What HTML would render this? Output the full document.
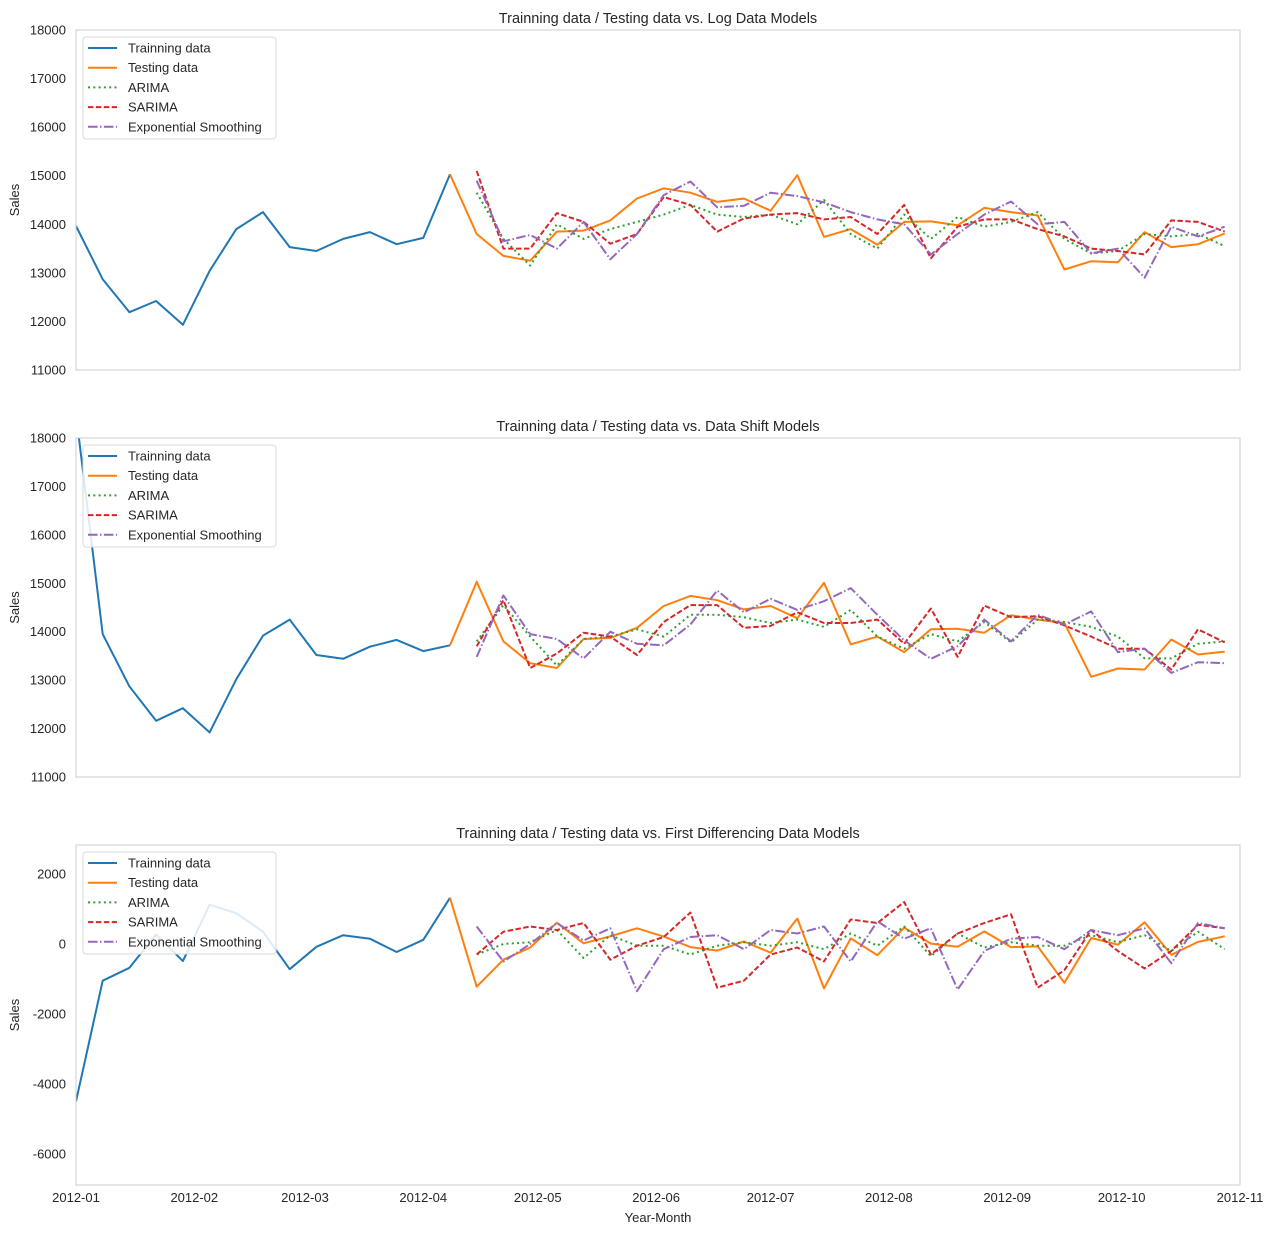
<!DOCTYPE html>
<html><head><meta charset="utf-8"><style>
body{margin:0;background:#fff;}
svg{display:block;font-family:"Liberation Sans",sans-serif;}
</style></head><body>
<svg id="chart" width="1273" height="1234" xmlns="http://www.w3.org/2000/svg"></svg>
<script>
// ---- data ----
const xTickLabels = ["2012-01","2012-02","2012-03","2012-04","2012-05","2012-06","2012-07","2012-08","2012-09","2012-10","2012-11"];
const xTickDays = [0,31,60,91,121,152,182,213,244,274,305];
const titles = ["Trainning data / Testing data vs. Log Data Models","Trainning data / Testing data vs. Data Shift Models","Trainning data / Testing data vs. First Differencing Data Models"];
// panel 1 (log)
const train1 = [13965,12870,12190,12420,11930,13040,13900,14250,13530,13450,13700,13840,13590,13720,15030];
const test1 = [15030,13800,13350,13250,13850,13870,14080,14530,14740,14650,14460,14530,14280,15010,13740,13900,13580,14050,14060,13980,14340,14250,14180,13070,13240,13220,13840,13530,13590,13810];
const arima1 = [14650,13700,13150,14000,13700,13900,14050,14200,14400,14200,14150,14200,14000,14500,13800,13500,14200,13700,14150,13950,14050,14250,13700,13400,13450,13800,13750,13800,13550];
const sarima1 = [15100,13500,13500,14230,14050,13600,13800,14560,14400,13850,14120,14200,14230,14100,14150,13800,14400,13300,13950,14100,14100,13900,13750,13500,13450,13380,14080,14050,13850];
const es1 = [14900,13650,13780,13500,14050,13280,13800,14600,14880,14350,14380,14650,14580,14450,14250,14100,14000,13380,13800,14200,14470,14000,14050,13400,13500,12900,13950,13750,13950];
// panel 2 (shift)
const train2 = [18500,13950,12870,12160,12420,11920,13020,13920,14250,13520,13440,13690,13830,13600,13720];
const test2 = [13720,15030,13800,13350,13250,13850,13870,14080,14530,14740,14650,14460,14530,14280,15010,13740,13900,13580,14050,14060,13980,14340,14250,14180,13070,13240,13220,13840,13530,13590];
const arima2 = [13800,14550,13900,13300,13850,13900,14050,13900,14350,14350,14300,14180,14250,14100,14450,13900,13650,13950,13800,14200,13780,14250,14200,14100,13900,13450,13450,13750,13800];
const sarima2 = [13700,14650,13250,13550,13980,13900,13520,14200,14550,14550,14080,14120,14400,14180,14180,14250,13750,14480,13480,14540,14300,14320,14130,13900,13650,13650,13220,14050,13780];
const es2 = [13480,14750,13950,13850,13450,14000,13750,13720,14150,14850,14400,14680,14450,14630,14900,14350,13820,13440,13700,14250,13800,14350,14150,14420,13580,13650,13150,13370,13350];
// panel 3 (diff)
const train3 = [-4500,-1050,-680,270,-490,1120,880,350,-720,-80,250,150,-230,120,1320];
const test3 = [1320,-1220,-450,-100,610,20,220,450,210,-90,-190,70,-250,730,-1270,160,-320,470,10,-80,360,-90,-70,-1110,170,-20,620,-310,60,220];
const arima3 = [-300,0,50,400,-400,250,-50,-50,-300,-50,50,-50,50,-150,300,-50,500,-350,300,-100,50,-50,-50,250,50,250,-200,350,-150];
const sarima3 = [-300,350,500,400,600,-450,-50,200,900,-1250,-1050,-300,-100,-500,700,600,1200,-300,300,600,850,-1250,-750,400,-200,-700,-200,550,450];
const es3 = [500,-500,0,600,100,450,-1350,-150,200,250,-150,400,300,500,-500,650,150,450,-1300,-200,150,200,-150,400,250,450,-550,600,450];
const yTicks12 = [11000,12000,13000,14000,15000,16000,17000,18000];
const yTicks3 = [-6000,-4000,-2000,0,2000];

// ---- layout ----
const NS="http://www.w3.org/2000/svg";
const svg=document.getElementById('chart');
const L=76,R=1240;
const xDay=d=>L+(R-L)*d/305;
const xWeek=i=>xDay(i*7);
function el(tag,attrs,parent){const e=document.createElementNS(NS,tag);for(const k in attrs)e.setAttribute(k,attrs[k]);(parent||svg).appendChild(e);return e;}
const panels=[
 {top:30,bot:370,min:11000,max:18000,ticks:yTicks12,tr:train1,te:test1,ar:arima1,sa:sarima1,es:es1},
 {top:438,bot:777,min:11000,max:18000,ticks:yTicks12,tr:train2,te:test2,ar:arima2,sa:sarima2,es:es2},
 {top:845,bot:1185,min:-6890,max:2830,ticks:yTicks3,tr:train3,te:test3,ar:arima3,sa:sarima3,es:es3}
];
const styles={tr:{c:"#1f77b4",d:""},te:{c:"#ff7f0e",d:""},ar:{c:"#2ca02c",d:"2,3.3"},sa:{c:"#d62728",d:"5.5,2.4"},es:{c:"#9467bd",d:"9.6,2.4,1.5,2.4"}};
const names={tr:"Trainning data",te:"Testing data",ar:"ARIMA",sa:"SARIMA",es:"Exponential Smoothing"};
panels.forEach((p,pi)=>{
  const g=el('g',{});
  
  
  const y=v=>p.bot-(v-p.min)/(p.max-p.min)*(p.bot-p.top);
  const cp=el('clipPath',{id:'cp'+pi},g);el('rect',{x:L,y:p.top,width:R-L,height:p.bot-p.top},cp);
  const t=el('text',{x:(L+R)/2,y:p.top-7,'text-anchor':'middle','font-size':14.5,fill:'#262626'},g);t.textContent=titles[pi];
  
  p.ticks.forEach(v=>{const tt=el('text',{x:L-10,y:y(v)+4.5,'text-anchor':'end','font-size':13,fill:'#262626'},g);tt.textContent=v;
    });
  const yl=el('text',{x:19,y:(p.top+p.bot)/2,'text-anchor':'middle','font-size':13,fill:'#262626',transform:`rotate(-90 19 ${(p.top+p.bot)/2})`},g);yl.textContent="Sales";
  
  const lg=el('g',{'clip-path':`url(#cp${pi})`},g);
  const series=[['tr',0],['te',14],['ar',15],['sa',15],['es',15]];
  series.forEach(([k,off])=>{
    const pts=p[k].map((v,i)=>xWeek(i+off).toFixed(1)+','+y(v).toFixed(1)).join(' ');
    const pl=el('polyline',{points:pts,fill:'none',stroke:styles[k].c,'stroke-width':2,'stroke-dasharray':styles[k].d,'stroke-linejoin':'round'},lg);
    
  });
  el('rect',{x:L,y:p.top,width:R-L,height:p.bot-p.top,fill:'none',stroke:'#cccccc','stroke-width':1},g);
  // legend
  const lgd=el('g',{},g);
  el('rect',{x:83,y:p.top+7,width:193,height:102,rx:3,fill:'#fff','fill-opacity':0.85,stroke:'#d9d9d9'},lgd);
  ['tr','te','ar','sa','es'].forEach((k,i)=>{
    const yy=p.top+18+i*19.7;
    el('line',{x1:88,x2:117,y1:yy,y2:yy,stroke:styles[k].c,'stroke-width':2,'stroke-dasharray':styles[k].d},lgd);
    const lt=el('text',{x:128,y:yy+4.5,'font-size':13,fill:'#262626'},lgd);lt.textContent=names[k];
    
  });
});
xTickLabels.forEach((s,i)=>{const t=el('text',{x:xDay(xTickDays[i]),y:1202,'text-anchor':'middle','font-size':13,fill:'#262626'});t.textContent=s;
  });
const xt=el('text',{x:(L+R)/2,y:1222,'text-anchor':'middle','font-size':13,fill:'#262626'});xt.textContent="Year-Month";

</script>
</body></html>
